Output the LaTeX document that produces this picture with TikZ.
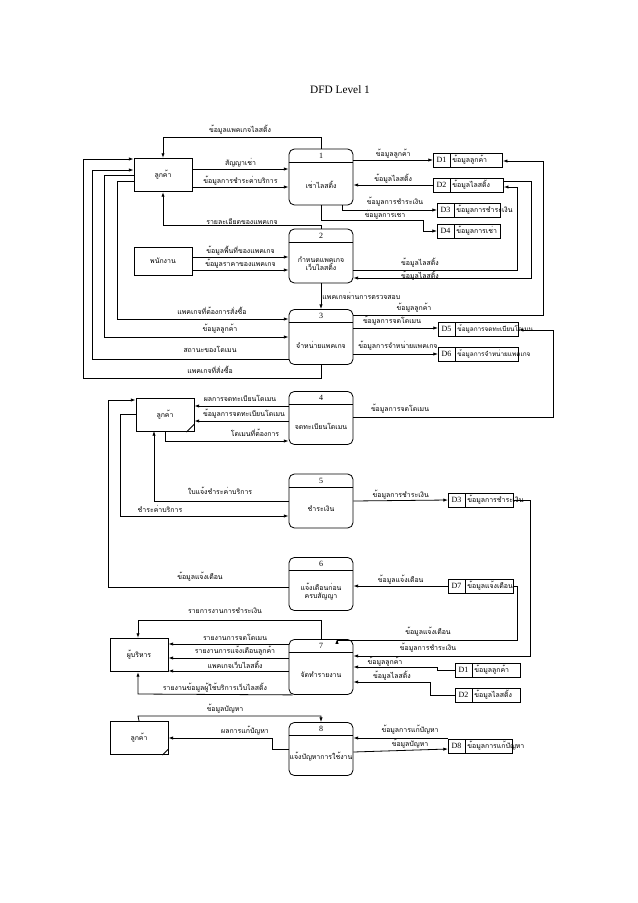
\documentclass[tikz,border=0pt]{standalone}
\usepackage{fontspec}
\IfFontExistsTF{Norasi.otf}{\setmainfont{Norasi.otf}}{%
 \IfFontExistsTF{Kinnari.otf}{\setmainfont{Kinnari.otf}}{%
  \IfFontExistsTF{Loma.otf}{\setmainfont{Loma.otf}}{%
   \IfFontExistsTF{Garuda.otf}{\setmainfont{Garuda.otf}}{\setmainfont{DejaVu Sans}}}}}
\newfontfamily\lat{Liberation Serif}
\usetikzlibrary{arrows.meta}
\begin{document}
\begin{tikzpicture}[x=0.75pt,y=-0.75pt,
  font=\fontsize{5.2}{6}\selectfont,
  every path/.style={line width=0.6pt},
  ar/.style={-{Latex[length=3.5pt,width=2.5pt]}},
  lb/.style={inner sep=0.8pt},
  ent/.style={draw,minimum width=43.5pt,minimum height=25pt,inner sep=0pt},
  proc/.style={draw,rounded corners=4pt,minimum width=48pt,minimum height=41pt,inner sep=0pt},
  ds/.style={draw,minimum height=10.5pt,inner sep=0pt,anchor=west}]
\useasboundingbox (0,0) rectangle (638,903);
\node[font=\lat\fontsize{8.5}{9}\selectfont] (title) at (340,90) {DFD Level 1};
% processes
\def\proc#1#2#3#4{%
 \node[proc,minimum height=#3*0.75pt] (p#1) at (321,#2) {};
 \draw (p#1.west |- 0,#2-#3/2+13) coordinate (h#1) -- (p#1.east |- 0,#2-#3/2+13);
 \node[font=\lat\fontsize{6}{7}\selectfont] at (321,#2-#3/2+6.5) {#1};
 \node[align=center] at (321,#2+8) {#4};}
\proc{1}{177}{56}{เช่าไลสติ้ง}
\proc{2}{256}{54}{กำหนดแพคเกจ\\เว็บไลสติ้ง}
\proc{3}{337}{55}{จำหน่ายแพคเกจ}
\proc{4}{418}{53}{จดทะเบียนโดเมน}
\proc{5}{501}{54}{ชำระเงิน}
\proc{6}{584}{53}{แจ้งเตือนก่อน\\ครบสัญญา}
\proc{7}{667}{55}{จัดทำรายงาน}
\proc{8}{749}{53}{แจ้งปัญหาการใช้งาน}
% entities
\node[ent] (c1) at (163,175) {ลูกค้า};
\node[ent,minimum height=21pt] (emp) at (163,261) {พนักงาน};
\node[ent] (c2) at (165,415) {ลูกค้า};
\draw (c2.south east) ++(-8,0) -- ++(8,-8);
\node[ent] (mg) at (139,655) {ผู้บริหาร};
\node[ent] (c3) at (139,738) {ลูกค้า};
\draw (c3.south east) ++(-6,0) -- ++(6,-6);
% data stores
\def\dstore#1#2#3#4#5#6{%
 \node[ds,minimum width=#4*0.75pt] (#1) at (#2,#3) {};
 \draw (#2+17,#3-7) -- (#2+17,#3+7);
 \node[inner sep=0pt,font=\lat\fontsize{6}{7}\selectfont] at (#2+8.5,#3) {#5};
 \node[inner sep=0pt,anchor=west] at (#2+19,#3) {#6};}
\dstore{d1}{433}{160}{69}{D1}{ข้อมูลลูกค้า}
\dstore{d2}{433}{185}{70}{D2}{ข้อมูลไลสติ้ง}
\dstore{d3}{437}{210}{63}{D3}{ข้อมูลการชำระเงิน}
\dstore{d4}{437}{231}{63}{D4}{ข้อมูลการเช่า}
\dstore{d5}{438}{329}{80}{D5}{\fontsize{4.8}{6}\selectfont ข้อมูลการจดทะเบียนโดเมน}
\dstore{d6}{438}{354}{80}{D6}{\fontsize{4.8}{6}\selectfont ข้อมูลการจำหน่ายแพคเกจ}
\dstore{d3b}{448}{500}{65}{D3}{ข้อมูลการชำระเงิน}
\dstore{d7}{448}{586}{65}{D7}{ข้อมูลแจ้งเตือน}
\dstore{d1b}{455}{670}{65}{D1}{ข้อมูลลูกค้า}
\dstore{d2b}{455}{695}{65}{D2}{ข้อมูลไลสติ้ง}
\dstore{d8}{448}{746}{64}{D8}{ข้อมูลการแก้ปัญหา}
% ---- process 1
\draw[ar] (p1.north) -- ++(0,-11) -| (c1.north);
\node[lb] at (240,130) {ข้อมูลแพคเกจไลสติ้ง};
\draw[ar] (c1.east |- 0,169) -- (p1.west |- 0,169) node[lb,midway,above] {สัญญาเช่า};
\draw[ar] (c1.east |- 0,187) -- (p1.west |- 0,187) node[lb,midway,above] {ข้อมูลการชำระค่าบริการ};
\draw[ar] (p1.east |- 0,160) -- (d1.west) node[lb,midway,above] {ข้อมูลลูกค้า};
\draw[ar] (d2.west) -- (p1.east |- 0,185) node[lb,midway,above] {ข้อมูลไลสติ้ง};
\draw[ar] (342,205) -- (342,210) -- (d3.west);
\node[lb] at (395,202) {ข้อมูลการชำระเงิน};
\draw[ar] (p1.south) -- (321,220) -- (423,220) -- (423,231) -- (d4.west);
\node[lb] at (385,215) {ข้อมูลการเช่า};
% ---- process 2
\draw[ar] (p2.north) -- ++(0,-3) -| (c1.south) node[lb,pos=0.25,above] {รายละเอียดของแพคเกจ};
\draw[ar] (emp.east |- 0,257) -- (p2.west |- 0,257) node[lb,midway,above] {ข้อมูลพื้นที่ของแพคเกจ};
\draw[ar] (emp.east |- 0,270) -- (p2.west |- 0,270) node[lb,midway,above] {ข้อมูลราคาของแพคเกจ};
\draw[ar] (p2.east |- 0,270) -- (517,270) -- (517,187) -- (d2.east |- 0,187);
\node[lb] at (420,263) {ข้อมูลไลสติ้ง};
\draw[ar] (d2.east |- 0,181) -- (531,181) -- (531,278) -- (p2.east |- 0,278);
\node[lb] at (420,276) {ข้อมูลไลสติ้ง};
\draw[ar] (p2.south) -- (p3.north) node[lb,midway,right] {แพคเกจผ่านการตรวจสอบ};
% ---- process 3
\draw[ar] (p3.east |- 0,315) -- (543,315) -- (543,161) -- (d1.east |- 0,161);
\node[lb] at (414,308) {ข้อมูลลูกค้า};
\draw[ar] (c1.west |- 0,181) -- (117,181) -- (117,319) -- (p3.west |- 0,319);
\node[lb] at (212,311) {แพคเกจที่ต้องการสั่งซื้อ};
\draw[ar] (c1.west |- 0,175) -- (104,175) -- (104,337) -- (p3.west |- 0,337);
\node[lb] at (220,329) {ข้อมูลลูกค้า};
\draw[ar] (p3.west |- 0,359) -- (92,359) -- (92,170) -- (c1.west |- 0,170);
\node[lb] at (210,349) {สถานะของโดเมน};
\draw[ar] (p3.south) -- (321,378) -- (83,378) -- (83,159) -- (c1.west |- 0,159);
\node[lb] at (210,370) {แพคเกจที่สั่งซื้อ};
\draw[ar] (p3.east |- 0,328) -- (d5.west |- 0,328);
\node[lb] at (392,321) {ข้อมูลการจดโดเมน};
\draw[ar] (p3.east |- 0,354) -- (d6.west);
\node[lb] at (398,346) {ข้อมูลการจำหน่ายแพคเกจ};
% ---- process 4
\draw[ar] (p4.east |- 0,417) -- (553,417) -- (553,330) -- (d5.east |- 0,330);
\node[lb] at (400,409) {ข้อมูลการจดโดเมน};
\draw[ar] (p4.west |- 0,406) -- (c2.east |- 0,406);
\node[lb] at (240,398) {ผลการจดทะเบียนโดเมน};
\draw[ar] (p4.west |- 0,421) -- (c2.east |- 0,421);
\node[lb] at (244,414) {ข้อมูลการจดทะเบียนโดเมน};
\draw[ar] (c2.south -| 165,0) -- (165,441) -- (p4.west |- 0,441);
\node[lb] at (255,433) {โดเมนที่ต้องการ};
% ---- process 5
\draw[ar] (p5.west |- 0,501) -- (154,501) -- (154,431);
\node[lb] at (220,491) {ใบแจ้งชำระค่าบริการ};
\draw[ar] (c2.west |- 0,414) -- (120,414) -- (120,516) -- (p5.west |- 0,516);
\node[lb] at (160,509) {ชำระค่าบริการ};
\draw[ar] (p5.east |- 0,501) -- (d3b.west) node[lb,midway,above] {ข้อมูลการชำระเงิน};
% ---- process 6
\draw[ar] (p6.west |- 0,587) -- (108,587) -- (108,400) -- (c2.west |- 0,400);
\node[lb] at (200,577) {ข้อมูลแจ้งเตือน};
\draw[ar] (d7.west) -- (p6.east |- 0,586) node[lb,midway,above] {ข้อมูลแจ้งเตือน};
% ---- process 7
\draw[ar] (d7.east) -- (517,586) -- (517,640) -- (337,640) -- (p7.north -| 337,0);
\node[lb] at (428,632) {ข้อมูลแจ้งเตือน};
\draw[ar] (d3b.east) -- (530,500) -- (530,656) -- (p7.east |- 0,656);
\node[lb] at (428,648) {ข้อมูลการชำระเงิน};
\draw[ar] (p7.north) -- (321,620) -- (138,620) -- (mg.north -| 138,0);
\node[lb] at (225,611) {รายการงานการชำระเงิน};
\draw[ar] (p7.west |- 0,644) -- (mg.east |- 0,644);
\node[lb] at (235,637) {รายงานการจดโดเมน};
\draw[ar] (p7.west |- 0,658) -- (mg.east |- 0,658);
\node[lb] at (235,651) {รายงานการแจ้งเตือนลูกค้า};
\draw[ar] (p7.west |- 0,671) -- (mg.east |- 0,671);
\node[lb] at (235,665) {แพคเกจเว็บไลสติ้ง};
\draw[ar] (p7.south west) ++(4,0) -- (138,694) -- (mg.south -| 138,0);
\node[lb] at (215,688) {รายงานข้อมูลผู้ใช้บริการเว็บไลสติ้ง};
\draw[ar] (d1b.west) -- (437,670) -- (437,667) -- (p7.east |- 0,667);
\node[lb] at (385,662) {ข้อมูลลูกค้า};
\draw[ar] (d2b.west) -- (430,695) -- (430,682) -- (p7.east |- 0,682);
\node[lb] at (392,676) {ข้อมูลไลสติ้ง};
% ---- process 8
\draw[ar] (c3.north) -- (138,716) -- (321,716) -- (p8.north);
\node[lb] at (225,709) {ข้อมูลปัญหา};
\draw[ar] (p8.west |- 0,749) -- (272,749) -- (272,738) -- (c3.east |- 0,738);
\node[lb] at (245,731) {ผลการแก้ปัญหา};
\draw[ar] (d8.west |- 0,738) -- (p8.east |- 0,738);
\node[lb] at (410,730) {ข้อมูลการแก้ปัญหา};
\draw[ar] (p8.east |- 0,752) -- (d8.west |- 0,749);
\node[lb] at (410,744) {ข้อมูลปัญหา};
\end{tikzpicture}
\end{document}
